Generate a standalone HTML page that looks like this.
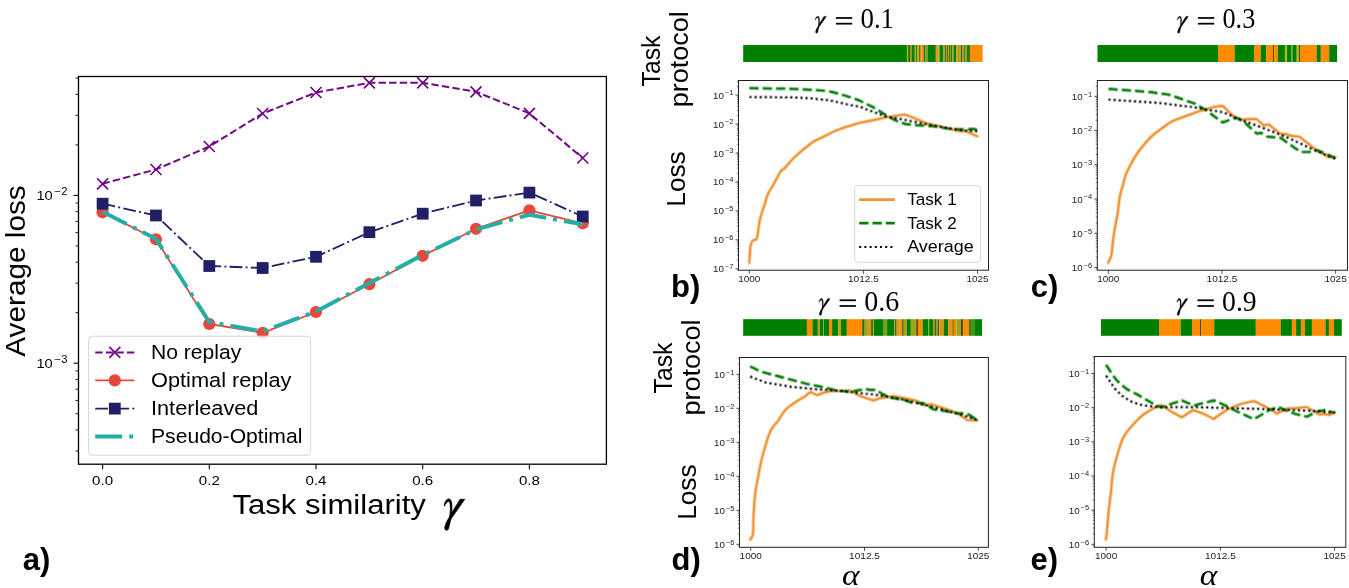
<!DOCTYPE html><html><head><meta charset="utf-8"><style>html,body{margin:0;padding:0;background:#fff;overflow:hidden}svg{display:block;will-change:transform}</style></head><body>
<svg width="1349" height="588" viewBox="0 0 1349 588">
<rect x="0" y="0" width="1349" height="588" fill="#fff"/>
<polyline points="102.6,183.8 155.95,169.5 209.3,146.5 262.65,113.5 316,92.5 369.35,82.8 422.7,82.8 476.05,91.8 529.4,113.4 582.75,158" fill="none" stroke="#700a84" stroke-width="2" stroke-linecap="butt" stroke-linejoin="round" stroke-dasharray="7.4 3.2"/>
<polyline points="102.6,212.3 155.95,239.3 209.3,324 262.65,332.8 316,312 369.35,284.2 422.7,255.8 476.05,228.8 529.4,210.3 582.75,223.3" fill="none" stroke="#e8473c" stroke-width="1.8" stroke-linecap="butt" stroke-linejoin="round"/>
<circle cx="102.6" cy="212.3" r="6.1" fill="#e8473c"/>
<circle cx="155.95" cy="239.3" r="6.1" fill="#e8473c"/>
<circle cx="209.3" cy="324" r="6.1" fill="#e8473c"/>
<circle cx="262.65" cy="332.8" r="6.1" fill="#e8473c"/>
<circle cx="316" cy="312" r="6.1" fill="#e8473c"/>
<circle cx="369.35" cy="284.2" r="6.1" fill="#e8473c"/>
<circle cx="422.7" cy="255.8" r="6.1" fill="#e8473c"/>
<circle cx="476.05" cy="228.8" r="6.1" fill="#e8473c"/>
<circle cx="529.4" cy="210.3" r="6.1" fill="#e8473c"/>
<circle cx="582.75" cy="223.3" r="6.1" fill="#e8473c"/>
<polyline points="102.6,203.7 155.95,215.5 209.3,266 262.65,268 316,256.8 369.35,232.2 422.7,213.7 476.05,200.5 529.4,192.6 582.75,216.5" fill="none" stroke="#221f69" stroke-width="1.8" stroke-linecap="butt" stroke-linejoin="round" stroke-dasharray="12.8 3.2 2 3.2"/>
<rect x="96.7" y="197.8" width="11.8" height="11.8" fill="#221f69"/>
<rect x="150.05" y="209.6" width="11.8" height="11.8" fill="#221f69"/>
<rect x="203.4" y="260.1" width="11.8" height="11.8" fill="#221f69"/>
<rect x="256.75" y="262.1" width="11.8" height="11.8" fill="#221f69"/>
<rect x="310.1" y="250.9" width="11.8" height="11.8" fill="#221f69"/>
<rect x="363.45" y="226.3" width="11.8" height="11.8" fill="#221f69"/>
<rect x="416.8" y="207.8" width="11.8" height="11.8" fill="#221f69"/>
<rect x="470.15" y="194.6" width="11.8" height="11.8" fill="#221f69"/>
<rect x="523.5" y="186.7" width="11.8" height="11.8" fill="#221f69"/>
<rect x="576.85" y="210.6" width="11.8" height="11.8" fill="#221f69"/>
<path d="M97.1,178.3L108.1,189.3M97.1,189.3L108.1,178.3" stroke="#700a84" stroke-width="1.7" fill="none"/>
<path d="M150.45,164L161.45,175M150.45,175L161.45,164" stroke="#700a84" stroke-width="1.7" fill="none"/>
<path d="M203.8,141L214.8,152M203.8,152L214.8,141" stroke="#700a84" stroke-width="1.7" fill="none"/>
<path d="M257.15,108L268.15,119M257.15,119L268.15,108" stroke="#700a84" stroke-width="1.7" fill="none"/>
<path d="M310.5,87L321.5,98M310.5,98L321.5,87" stroke="#700a84" stroke-width="1.7" fill="none"/>
<path d="M363.85,77.3L374.85,88.3M363.85,88.3L374.85,77.3" stroke="#700a84" stroke-width="1.7" fill="none"/>
<path d="M417.2,77.3L428.2,88.3M417.2,88.3L428.2,77.3" stroke="#700a84" stroke-width="1.7" fill="none"/>
<path d="M470.55,86.3L481.55,97.3M470.55,97.3L481.55,86.3" stroke="#700a84" stroke-width="1.7" fill="none"/>
<path d="M523.9,107.9L534.9,118.9M523.9,118.9L534.9,107.9" stroke="#700a84" stroke-width="1.7" fill="none"/>
<path d="M577.25,152.5L588.25,163.5M577.25,163.5L588.25,152.5" stroke="#700a84" stroke-width="1.7" fill="none"/>
<polyline points="102.6,211.8 155.95,238.8 209.3,322 262.65,331.5 316,311.5 369.35,283 422.7,255 476.05,229.4 529.4,214.8 582.75,224.3" fill="none" stroke="#26ada5" stroke-width="4" stroke-linecap="butt" stroke-linejoin="round" stroke-dasharray="27 7 4 7"/>
<rect x="78.5" y="76.5" width="527.9" height="387.7" fill="none" stroke="#000" stroke-width="1.3"/>
<line x1="102.6" y1="464.2" x2="102.6" y2="469.2" stroke="#000" stroke-width="1.1"/>
<text x="102.6" y="484.6" font-size="13.4" text-anchor="middle" font-family='"Liberation Sans", sans-serif' textLength="21" lengthAdjust="spacingAndGlyphs">0.0</text>
<line x1="209.3" y1="464.2" x2="209.3" y2="469.2" stroke="#000" stroke-width="1.1"/>
<text x="209.3" y="484.6" font-size="13.4" text-anchor="middle" font-family='"Liberation Sans", sans-serif' textLength="21" lengthAdjust="spacingAndGlyphs">0.2</text>
<line x1="316" y1="464.2" x2="316" y2="469.2" stroke="#000" stroke-width="1.1"/>
<text x="316" y="484.6" font-size="13.4" text-anchor="middle" font-family='"Liberation Sans", sans-serif' textLength="21" lengthAdjust="spacingAndGlyphs">0.4</text>
<line x1="422.7" y1="464.2" x2="422.7" y2="469.2" stroke="#000" stroke-width="1.1"/>
<text x="422.7" y="484.6" font-size="13.4" text-anchor="middle" font-family='"Liberation Sans", sans-serif' textLength="21" lengthAdjust="spacingAndGlyphs">0.6</text>
<line x1="529.4" y1="464.2" x2="529.4" y2="469.2" stroke="#000" stroke-width="1.1"/>
<text x="529.4" y="484.6" font-size="13.4" text-anchor="middle" font-family='"Liberation Sans", sans-serif' textLength="21" lengthAdjust="spacingAndGlyphs">0.8</text>
<line x1="73.5" y1="195.4" x2="78.5" y2="195.4" stroke="#000" stroke-width="1.1"/>
<text x="52.8" y="199.8" font-size="13.4" text-anchor="end" font-family='"Liberation Sans", sans-serif' textLength="16.4" lengthAdjust="spacingAndGlyphs">10</text>
<text x="54.6" y="194.7" font-size="10" text-anchor="start" font-family='"Liberation Sans", sans-serif' textLength="12.8" lengthAdjust="spacingAndGlyphs">−2</text>
<line x1="73.5" y1="363.2" x2="78.5" y2="363.2" stroke="#000" stroke-width="1.1"/>
<text x="52.8" y="367.6" font-size="13.4" text-anchor="end" font-family='"Liberation Sans", sans-serif' textLength="16.4" lengthAdjust="spacingAndGlyphs">10</text>
<text x="54.6" y="362.5" font-size="10" text-anchor="start" font-family='"Liberation Sans", sans-serif' textLength="12.8" lengthAdjust="spacingAndGlyphs">−3</text>
<line x1="75.5" y1="450.94" x2="78.5" y2="450.94" stroke="#000" stroke-width="0.9"/>
<line x1="75.5" y1="429.97" x2="78.5" y2="429.97" stroke="#000" stroke-width="0.9"/>
<line x1="75.5" y1="413.71" x2="78.5" y2="413.71" stroke="#000" stroke-width="0.9"/>
<line x1="75.5" y1="400.43" x2="78.5" y2="400.43" stroke="#000" stroke-width="0.9"/>
<line x1="75.5" y1="389.19" x2="78.5" y2="389.19" stroke="#000" stroke-width="0.9"/>
<line x1="75.5" y1="379.46" x2="78.5" y2="379.46" stroke="#000" stroke-width="0.9"/>
<line x1="75.5" y1="370.88" x2="78.5" y2="370.88" stroke="#000" stroke-width="0.9"/>
<line x1="75.5" y1="312.69" x2="78.5" y2="312.69" stroke="#000" stroke-width="0.9"/>
<line x1="75.5" y1="283.14" x2="78.5" y2="283.14" stroke="#000" stroke-width="0.9"/>
<line x1="75.5" y1="262.17" x2="78.5" y2="262.17" stroke="#000" stroke-width="0.9"/>
<line x1="75.5" y1="245.91" x2="78.5" y2="245.91" stroke="#000" stroke-width="0.9"/>
<line x1="75.5" y1="232.63" x2="78.5" y2="232.63" stroke="#000" stroke-width="0.9"/>
<line x1="75.5" y1="221.39" x2="78.5" y2="221.39" stroke="#000" stroke-width="0.9"/>
<line x1="75.5" y1="211.66" x2="78.5" y2="211.66" stroke="#000" stroke-width="0.9"/>
<line x1="75.5" y1="203.08" x2="78.5" y2="203.08" stroke="#000" stroke-width="0.9"/>
<line x1="75.5" y1="144.89" x2="78.5" y2="144.89" stroke="#000" stroke-width="0.9"/>
<line x1="75.5" y1="115.34" x2="78.5" y2="115.34" stroke="#000" stroke-width="0.9"/>
<line x1="75.5" y1="94.37" x2="78.5" y2="94.37" stroke="#000" stroke-width="0.9"/>
<line x1="75.5" y1="78.11" x2="78.5" y2="78.11" stroke="#000" stroke-width="0.9"/>
<text x="24.5" y="271" font-size="27" text-anchor="middle" font-family='"Liberation Sans", sans-serif' textLength="171.5" lengthAdjust="spacingAndGlyphs" transform="rotate(-90 24.5 271)">Average loss</text>
<text x="232.5" y="513.7" font-size="27" text-anchor="start" font-family='"Liberation Sans", sans-serif' textLength="193.4" lengthAdjust="spacingAndGlyphs">Task similarity</text>
<path d="M118,205 C125,150 155,112 185,115 C215,120 225,170 222,240 L218,300 L330,120 L392,120 L210,380 C195,420 188,470 178,508 C168,535 138,540 128,515 C120,490 140,430 188,355 C196,330 200,290 200,240 C200,185 192,150 176,150 C158,152 138,175 125,210 Z" fill="#000" stroke="#000" stroke-width="9" stroke-linejoin="round" transform="translate(435.2,490.2) scale(0.0755)"/>
<text x="22.8" y="569.9" font-size="31" text-anchor="start" font-family='"Liberation Sans", sans-serif' font-weight="bold">a)</text>
<rect x="88.6" y="336.2" width="222" height="119" rx="3.5" fill="#fff" fill-opacity="0.8" stroke="#d6d6d6" stroke-width="1"/>
<polyline points="95.2,352.4 134.3,352.4" fill="none" stroke="#700a84" stroke-width="2" stroke-linecap="butt" stroke-linejoin="round" stroke-dasharray="7.4 3.2"/>
<path d="M109.3,346.9L120.3,357.9M109.3,357.9L120.3,346.9" stroke="#700a84" stroke-width="1.7" fill="none"/>
<polyline points="95.2,380.4 134.3,380.4" fill="none" stroke="#e8473c" stroke-width="1.8" stroke-linecap="butt" stroke-linejoin="round"/>
<circle cx="114.8" cy="380.4" r="6.1" fill="#e8473c"/>
<polyline points="95.2,408.6 134.3,408.6" fill="none" stroke="#221f69" stroke-width="1.8" stroke-linecap="butt" stroke-linejoin="round" stroke-dasharray="12.8 3.2 2 3.2"/>
<rect x="108.9" y="402.7" width="11.8" height="11.8" fill="#221f69"/>
<polyline points="95.2,436.6 134.3,436.6" fill="none" stroke="#26ada5" stroke-width="4" stroke-linecap="butt" stroke-linejoin="round" stroke-dasharray="27 7 4 7"/>
<text x="151" y="359" font-size="19.3" text-anchor="start" font-family='"Liberation Sans", sans-serif' textLength="90.3" lengthAdjust="spacingAndGlyphs">No replay</text>
<text x="151" y="387" font-size="19.3" text-anchor="start" font-family='"Liberation Sans", sans-serif' textLength="140.4" lengthAdjust="spacingAndGlyphs">Optimal replay</text>
<text x="151" y="415.2" font-size="19.3" text-anchor="start" font-family='"Liberation Sans", sans-serif' textLength="107.4" lengthAdjust="spacingAndGlyphs">Interleaved</text>
<text x="151" y="443.2" font-size="19.3" text-anchor="start" font-family='"Liberation Sans", sans-serif' textLength="151.4" lengthAdjust="spacingAndGlyphs">Pseudo-Optimal</text>
<rect x="743.2" y="45" width="163.75" height="17" fill="#008000"/>
<rect x="906.9" y="45" width="1.35" height="17" fill="#9fb52a"/>
<rect x="908.2" y="45" width="1.85" height="17" fill="#1a6e05"/>
<rect x="910" y="45" width="1.95" height="17" fill="#a59a10"/>
<rect x="911.9" y="45" width="2.95" height="17" fill="#0e800a"/>
<rect x="914.8" y="45" width="1.35" height="17" fill="#a8bb30"/>
<rect x="916.1" y="45" width="0.95" height="17" fill="#2a6a05"/>
<rect x="917" y="45" width="2.05" height="17" fill="#b9b025"/>
<rect x="919" y="45" width="0.95" height="17" fill="#6a5a05"/>
<rect x="919.9" y="45" width="1.85" height="17" fill="#c8a015"/>
<rect x="921.7" y="45" width="2.25" height="17" fill="#f09010"/>
<rect x="923.9" y="45" width="1.35" height="17" fill="#1e6a05"/>
<rect x="925.2" y="45" width="2.75" height="17" fill="#78a520"/>
<rect x="927.9" y="45" width="7.95" height="17" fill="#008000"/>
<rect x="935.8" y="45" width="2.75" height="17" fill="#f59512"/>
<rect x="938.5" y="45" width="1.35" height="17" fill="#90a020"/>
<rect x="939.8" y="45" width="3.15" height="17" fill="#008000"/>
<rect x="942.9" y="45" width="2.25" height="17" fill="#98b02a"/>
<rect x="945.1" y="45" width="0.95" height="17" fill="#3a6005"/>
<rect x="946" y="45" width="1.15" height="17" fill="#b5aa20"/>
<rect x="947.1" y="45" width="0.95" height="17" fill="#4a5a05"/>
<rect x="948" y="45" width="1.15" height="17" fill="#b0a820"/>
<rect x="949.1" y="45" width="0.95" height="17" fill="#4a6005"/>
<rect x="950" y="45" width="1.15" height="17" fill="#80a020"/>
<rect x="951.1" y="45" width="1.15" height="17" fill="#1a6a05"/>
<rect x="952.2" y="45" width="1.75" height="17" fill="#90a520"/>
<rect x="953.9" y="45" width="2.25" height="17" fill="#008000"/>
<rect x="956.1" y="45" width="1.15" height="17" fill="#b5b020"/>
<rect x="957.2" y="45" width="1.85" height="17" fill="#d08a10"/>
<rect x="959" y="45" width="1.85" height="17" fill="#b5a820"/>
<rect x="960.8" y="45" width="1.35" height="17" fill="#4a5a05"/>
<rect x="962.1" y="45" width="1.85" height="17" fill="#a0a520"/>
<rect x="963.9" y="45" width="0.95" height="17" fill="#3a5a05"/>
<rect x="964.8" y="45" width="2.25" height="17" fill="#80b02a"/>
<rect x="967" y="45" width="3.05" height="17" fill="#2a7a08"/>
<rect x="970" y="45" width="12.65" height="17" fill="#ff8c00"/>
<svg x="738.5" y="80.5" width="250" height="189.7" overflow="hidden"><g transform="translate(-738.5,-80.5)">
<path d="M749.3,262.6 C749.5,259.92 749.93,250.18 750.5,246.5 C751.07,242.82 751.77,241.63 752.7,240.5 C753.63,239.37 755.3,240.55 756.1,239.7 C756.9,238.85 756.82,238.95 757.5,235.4 C758.18,231.85 758.95,223.72 760.2,218.4 C761.45,213.08 763.75,207.47 765,203.5 C766.25,199.53 766.23,197.88 767.7,194.6 C769.17,191.32 771.65,187.65 773.8,183.8 C775.95,179.95 778.68,174.22 780.6,171.5 C782.52,168.78 783.38,169.48 785.3,167.5 C787.22,165.52 789.5,162.27 792.1,159.6 C794.7,156.93 797.45,154.42 800.9,151.5 C804.35,148.58 809.12,144.52 812.8,142.1 C816.48,139.68 819.32,138.83 823,137 C826.68,135.17 830.93,132.8 834.9,131.1 C838.87,129.4 843.45,127.93 846.8,126.8 C850.15,125.67 852.8,124.98 855,124.3 C857.2,123.62 856.95,123.4 860,122.7 C860,122.7 873.3,120.1 873.3,120.1 C873.3,120.1 887.6,117 887.6,117 C887.6,117 904.9,114.5 904.9,114.5 C904.9,114.5 913.1,117.6 913.1,117.6 C913.1,117.6 926.3,123.2 926.3,123.2 C926.3,123.2 939.6,126.2 939.6,126.2 C939.6,126.2 956.9,130.8 956.9,130.8 C956.9,130.8 967.1,131.8 967.1,131.8 C967.1,131.8 977.5,136.4 977.5,136.4" fill="none" stroke="#ef9230" stroke-width="2.6" stroke-linecap="round" stroke-linejoin="round"/>
<polyline points="749.4,88.2 791,88.8 821.7,90.5 831.9,91.9 845.5,95.7 859.1,100.4 873.3,107.3 886.5,115.5 895.7,120.6 905.9,124.2 916.1,125.2 926.3,125.7 936.5,126.7 946.7,128.3 956.9,129.3 967.1,129.3 973.3,128.8 977.5,130" fill="none" stroke="#0a800a" stroke-width="2.7" stroke-linecap="butt" stroke-linejoin="round" stroke-dasharray="9.3 4.0"/>
<polyline points="749.4,97 791,97.4 811.5,98.4 828.5,100.1 848.9,104.7 860,106.8 873.3,111.9 886.5,116.7 900.8,119.1 916.1,122.1 931.4,125.2 946.7,127.8 962,130.3 977.5,131.3" fill="none" stroke="#000" stroke-width="2.2" stroke-linecap="butt" stroke-linejoin="round" stroke-dasharray="2.2 2.9"/>
</g></svg>
<rect x="738.5" y="80.5" width="250" height="189.7" fill="none" stroke="#222" stroke-width="1"/>
<line x1="749.3" y1="270.2" x2="749.3" y2="273.7" stroke="#222" stroke-width="0.8"/>
<text x="749.3" y="282.3" font-size="9.2" text-anchor="middle" font-family='"Liberation Sans", sans-serif' textLength="22.2" lengthAdjust="spacingAndGlyphs" fill="#222">1000</text>
<line x1="863.4" y1="270.2" x2="863.4" y2="273.7" stroke="#222" stroke-width="0.8"/>
<text x="863.4" y="282.3" font-size="9.2" text-anchor="middle" font-family='"Liberation Sans", sans-serif' textLength="30.8" lengthAdjust="spacingAndGlyphs" fill="#222">1012.5</text>
<line x1="977.5" y1="270.2" x2="977.5" y2="273.7" stroke="#222" stroke-width="0.8"/>
<text x="977.5" y="282.3" font-size="9.2" text-anchor="middle" font-family='"Liberation Sans", sans-serif' textLength="22.2" lengthAdjust="spacingAndGlyphs" fill="#222">1025</text>
<line x1="736.9" y1="270.12" x2="738.5" y2="270.12" stroke="#222" stroke-width="0.6"/>
<line x1="735.5" y1="268.8" x2="738.5" y2="268.8" stroke="#222" stroke-width="0.8"/>
<text x="723.9" y="272.3" font-size="9.3" text-anchor="end" font-family='"Liberation Sans", sans-serif' textLength="10.9" lengthAdjust="spacingAndGlyphs" fill="#222">10</text>
<text x="724.9" y="269.1" font-size="6.6" text-anchor="start" font-family='"Liberation Sans", sans-serif' textLength="8.6" lengthAdjust="spacingAndGlyphs" fill="#222">−7</text>
<line x1="736.9" y1="260.09" x2="738.5" y2="260.09" stroke="#222" stroke-width="0.6"/>
<line x1="736.9" y1="254.99" x2="738.5" y2="254.99" stroke="#222" stroke-width="0.6"/>
<line x1="736.9" y1="251.37" x2="738.5" y2="251.37" stroke="#222" stroke-width="0.6"/>
<line x1="736.9" y1="248.56" x2="738.5" y2="248.56" stroke="#222" stroke-width="0.6"/>
<line x1="736.9" y1="246.27" x2="738.5" y2="246.27" stroke="#222" stroke-width="0.6"/>
<line x1="736.9" y1="244.33" x2="738.5" y2="244.33" stroke="#222" stroke-width="0.6"/>
<line x1="736.9" y1="242.66" x2="738.5" y2="242.66" stroke="#222" stroke-width="0.6"/>
<line x1="736.9" y1="241.17" x2="738.5" y2="241.17" stroke="#222" stroke-width="0.6"/>
<line x1="735.5" y1="239.85" x2="738.5" y2="239.85" stroke="#222" stroke-width="0.8"/>
<text x="723.9" y="243.35" font-size="9.3" text-anchor="end" font-family='"Liberation Sans", sans-serif' textLength="10.9" lengthAdjust="spacingAndGlyphs" fill="#222">10</text>
<text x="724.9" y="240.15" font-size="6.6" text-anchor="start" font-family='"Liberation Sans", sans-serif' textLength="8.6" lengthAdjust="spacingAndGlyphs" fill="#222">−6</text>
<line x1="736.9" y1="231.14" x2="738.5" y2="231.14" stroke="#222" stroke-width="0.6"/>
<line x1="736.9" y1="226.04" x2="738.5" y2="226.04" stroke="#222" stroke-width="0.6"/>
<line x1="736.9" y1="222.42" x2="738.5" y2="222.42" stroke="#222" stroke-width="0.6"/>
<line x1="736.9" y1="219.61" x2="738.5" y2="219.61" stroke="#222" stroke-width="0.6"/>
<line x1="736.9" y1="217.32" x2="738.5" y2="217.32" stroke="#222" stroke-width="0.6"/>
<line x1="736.9" y1="215.38" x2="738.5" y2="215.38" stroke="#222" stroke-width="0.6"/>
<line x1="736.9" y1="213.71" x2="738.5" y2="213.71" stroke="#222" stroke-width="0.6"/>
<line x1="736.9" y1="212.22" x2="738.5" y2="212.22" stroke="#222" stroke-width="0.6"/>
<line x1="735.5" y1="210.9" x2="738.5" y2="210.9" stroke="#222" stroke-width="0.8"/>
<text x="723.9" y="214.4" font-size="9.3" text-anchor="end" font-family='"Liberation Sans", sans-serif' textLength="10.9" lengthAdjust="spacingAndGlyphs" fill="#222">10</text>
<text x="724.9" y="211.2" font-size="6.6" text-anchor="start" font-family='"Liberation Sans", sans-serif' textLength="8.6" lengthAdjust="spacingAndGlyphs" fill="#222">−5</text>
<line x1="736.9" y1="202.19" x2="738.5" y2="202.19" stroke="#222" stroke-width="0.6"/>
<line x1="736.9" y1="197.09" x2="738.5" y2="197.09" stroke="#222" stroke-width="0.6"/>
<line x1="736.9" y1="193.47" x2="738.5" y2="193.47" stroke="#222" stroke-width="0.6"/>
<line x1="736.9" y1="190.66" x2="738.5" y2="190.66" stroke="#222" stroke-width="0.6"/>
<line x1="736.9" y1="188.37" x2="738.5" y2="188.37" stroke="#222" stroke-width="0.6"/>
<line x1="736.9" y1="186.43" x2="738.5" y2="186.43" stroke="#222" stroke-width="0.6"/>
<line x1="736.9" y1="184.76" x2="738.5" y2="184.76" stroke="#222" stroke-width="0.6"/>
<line x1="736.9" y1="183.27" x2="738.5" y2="183.27" stroke="#222" stroke-width="0.6"/>
<line x1="735.5" y1="181.95" x2="738.5" y2="181.95" stroke="#222" stroke-width="0.8"/>
<text x="723.9" y="185.45" font-size="9.3" text-anchor="end" font-family='"Liberation Sans", sans-serif' textLength="10.9" lengthAdjust="spacingAndGlyphs" fill="#222">10</text>
<text x="724.9" y="182.25" font-size="6.6" text-anchor="start" font-family='"Liberation Sans", sans-serif' textLength="8.6" lengthAdjust="spacingAndGlyphs" fill="#222">−4</text>
<line x1="736.9" y1="173.24" x2="738.5" y2="173.24" stroke="#222" stroke-width="0.6"/>
<line x1="736.9" y1="168.14" x2="738.5" y2="168.14" stroke="#222" stroke-width="0.6"/>
<line x1="736.9" y1="164.52" x2="738.5" y2="164.52" stroke="#222" stroke-width="0.6"/>
<line x1="736.9" y1="161.71" x2="738.5" y2="161.71" stroke="#222" stroke-width="0.6"/>
<line x1="736.9" y1="159.42" x2="738.5" y2="159.42" stroke="#222" stroke-width="0.6"/>
<line x1="736.9" y1="157.48" x2="738.5" y2="157.48" stroke="#222" stroke-width="0.6"/>
<line x1="736.9" y1="155.81" x2="738.5" y2="155.81" stroke="#222" stroke-width="0.6"/>
<line x1="736.9" y1="154.32" x2="738.5" y2="154.32" stroke="#222" stroke-width="0.6"/>
<line x1="735.5" y1="153" x2="738.5" y2="153" stroke="#222" stroke-width="0.8"/>
<text x="723.9" y="156.5" font-size="9.3" text-anchor="end" font-family='"Liberation Sans", sans-serif' textLength="10.9" lengthAdjust="spacingAndGlyphs" fill="#222">10</text>
<text x="724.9" y="153.3" font-size="6.6" text-anchor="start" font-family='"Liberation Sans", sans-serif' textLength="8.6" lengthAdjust="spacingAndGlyphs" fill="#222">−3</text>
<line x1="736.9" y1="144.29" x2="738.5" y2="144.29" stroke="#222" stroke-width="0.6"/>
<line x1="736.9" y1="139.19" x2="738.5" y2="139.19" stroke="#222" stroke-width="0.6"/>
<line x1="736.9" y1="135.57" x2="738.5" y2="135.57" stroke="#222" stroke-width="0.6"/>
<line x1="736.9" y1="132.76" x2="738.5" y2="132.76" stroke="#222" stroke-width="0.6"/>
<line x1="736.9" y1="130.47" x2="738.5" y2="130.47" stroke="#222" stroke-width="0.6"/>
<line x1="736.9" y1="128.53" x2="738.5" y2="128.53" stroke="#222" stroke-width="0.6"/>
<line x1="736.9" y1="126.86" x2="738.5" y2="126.86" stroke="#222" stroke-width="0.6"/>
<line x1="736.9" y1="125.37" x2="738.5" y2="125.37" stroke="#222" stroke-width="0.6"/>
<line x1="735.5" y1="124.05" x2="738.5" y2="124.05" stroke="#222" stroke-width="0.8"/>
<text x="723.9" y="127.55" font-size="9.3" text-anchor="end" font-family='"Liberation Sans", sans-serif' textLength="10.9" lengthAdjust="spacingAndGlyphs" fill="#222">10</text>
<text x="724.9" y="124.35" font-size="6.6" text-anchor="start" font-family='"Liberation Sans", sans-serif' textLength="8.6" lengthAdjust="spacingAndGlyphs" fill="#222">−2</text>
<line x1="736.9" y1="115.34" x2="738.5" y2="115.34" stroke="#222" stroke-width="0.6"/>
<line x1="736.9" y1="110.24" x2="738.5" y2="110.24" stroke="#222" stroke-width="0.6"/>
<line x1="736.9" y1="106.62" x2="738.5" y2="106.62" stroke="#222" stroke-width="0.6"/>
<line x1="736.9" y1="103.81" x2="738.5" y2="103.81" stroke="#222" stroke-width="0.6"/>
<line x1="736.9" y1="101.52" x2="738.5" y2="101.52" stroke="#222" stroke-width="0.6"/>
<line x1="736.9" y1="99.58" x2="738.5" y2="99.58" stroke="#222" stroke-width="0.6"/>
<line x1="736.9" y1="97.91" x2="738.5" y2="97.91" stroke="#222" stroke-width="0.6"/>
<line x1="736.9" y1="96.42" x2="738.5" y2="96.42" stroke="#222" stroke-width="0.6"/>
<line x1="735.5" y1="95.1" x2="738.5" y2="95.1" stroke="#222" stroke-width="0.8"/>
<text x="723.9" y="98.6" font-size="9.3" text-anchor="end" font-family='"Liberation Sans", sans-serif' textLength="10.9" lengthAdjust="spacingAndGlyphs" fill="#222">10</text>
<text x="724.9" y="95.4" font-size="6.6" text-anchor="start" font-family='"Liberation Sans", sans-serif' textLength="8.6" lengthAdjust="spacingAndGlyphs" fill="#222">−1</text>
<line x1="736.9" y1="86.39" x2="738.5" y2="86.39" stroke="#222" stroke-width="0.6"/>
<line x1="736.9" y1="81.29" x2="738.5" y2="81.29" stroke="#222" stroke-width="0.6"/>
<path d="M118,205 C125,150 155,112 185,115 C215,120 225,170 222,240 L218,300 L330,120 L392,120 L210,380 C195,420 188,470 178,508 C168,535 138,540 128,515 C120,490 140,430 188,355 C196,330 200,290 200,240 C200,185 192,150 176,150 C158,152 138,175 125,210 Z" fill="#000" stroke="#000" stroke-width="8" stroke-linejoin="round" transform="translate(810.43,11.47) scale(0.04089)"/>
<rect x="835.9" y="17.1" width="16.3" height="1.75" fill="#000"/>
<rect x="835.9" y="22.8" width="16.3" height="1.75" fill="#000"/>
<text x="860.46" y="28.3" font-size="28.5" text-anchor="start" font-family='"Liberation Serif", serif' textLength="33.6" lengthAdjust="spacingAndGlyphs">0.1</text>
<text x="671" y="297" font-size="31" text-anchor="start" font-family='"Liberation Sans", sans-serif' font-weight="bold">b)</text>
<rect x="1097.5" y="45" width="120.55" height="17" fill="#008000"/>
<rect x="1218" y="45" width="16.65" height="17" fill="#ff8c00"/>
<rect x="1234.6" y="45" width="19.45" height="17" fill="#008000"/>
<rect x="1254" y="45" width="6.85" height="17" fill="#ff8c00"/>
<rect x="1260.8" y="45" width="5.45" height="17" fill="#008000"/>
<rect x="1266.2" y="45" width="6.75" height="17" fill="#ff8c00"/>
<rect x="1272.9" y="45" width="1.25" height="17" fill="#4a5205"/>
<rect x="1274.1" y="45" width="3.85" height="17" fill="#ff8c00"/>
<rect x="1277.9" y="45" width="7.05" height="17" fill="#008000"/>
<rect x="1284.9" y="45" width="2.2" height="17" fill="#b5b52a"/>
<rect x="1287.05" y="45" width="4.1" height="17" fill="#008000"/>
<rect x="1291.1" y="45" width="1.45" height="17" fill="#6ab030"/>
<rect x="1292.5" y="45" width="4.25" height="17" fill="#008000"/>
<rect x="1296.7" y="45" width="2.25" height="17" fill="#b5b52a"/>
<rect x="1298.9" y="45" width="1.15" height="17" fill="#3a5005"/>
<rect x="1300" y="45" width="16.75" height="17" fill="#ff8c00"/>
<rect x="1316.7" y="45" width="4.15" height="17" fill="#008000"/>
<rect x="1320.8" y="45" width="8.45" height="17" fill="#ff8c00"/>
<rect x="1329.2" y="45" width="7.85" height="17" fill="#008000"/>
<svg x="1097.3" y="80.5" width="250.2" height="189.7" overflow="hidden"><g transform="translate(-1097.3,-80.5)">
<path d="M1108.2,262.6 C1108.67,261.62 1110.38,258.53 1111,256.7 C1111.62,254.87 1111.47,255 1111.9,251.6 C1112.33,248.2 1113.03,240.55 1113.6,236.3 C1114.17,232.05 1114.6,230.07 1115.3,226.1 C1116,222.13 1117.07,217.35 1117.8,212.5 C1118.53,207.65 1118.92,201.3 1119.7,197 C1120.48,192.7 1121.47,190.47 1122.5,186.7 C1123.53,182.93 1124.43,178.27 1125.9,174.4 C1127.37,170.53 1129.48,166.9 1131.3,163.5 C1133.12,160.1 1134.75,157.05 1136.8,154 C1138.85,150.95 1141.12,148.15 1143.6,145.2 C1146.08,142.25 1148.75,139.03 1151.7,136.3 C1154.65,133.57 1157.9,131.28 1161.3,128.8 C1164.7,126.32 1167.63,123.65 1172.1,121.4 C1176.57,119.15 1183.45,117.02 1188.1,115.3 C1192.75,113.58 1195.52,112.52 1200,111.1 C1204.48,109.68 1211.67,107.63 1215,106.8 C1215,106.8 1220,106.1 1220,106.1 C1220,106.1 1223.1,106.1 1223.1,106.1 C1223.1,106.1 1232.2,115.2 1232.2,115.2 C1232.2,115.2 1239.9,119.8 1239.9,119.8 C1239.9,119.8 1247.5,119.1 1247.5,119.1 C1247.5,119.1 1256.7,119.1 1256.7,119.1 C1256.7,119.1 1263.6,125.2 1263.6,125.2 C1263.6,125.2 1269,124.4 1269,124.4 C1269,124.4 1279.7,133.6 1279.7,133.6 C1279.7,133.6 1287.3,134.4 1287.3,134.4 C1287.3,134.4 1291.9,135.9 1291.9,135.9 C1291.9,135.9 1299.6,136.7 1299.6,136.7 C1299.6,136.7 1311.8,146.6 1311.8,146.6 C1311.8,146.6 1319.5,152 1319.5,152 C1319.5,152 1328.6,157.3 1328.6,157.3 C1328.6,157.3 1335.5,157.3 1335.5,157.3" fill="none" stroke="#ef9230" stroke-width="2.6" stroke-linecap="round" stroke-linejoin="round"/>
<polyline points="1108.5,88.8 1125.5,90.2 1151,92.2 1168.1,94.5 1178.3,97.9 1195.3,103.8 1205.5,109.8 1219.1,120 1222.5,122.5 1233.8,118.3 1238.4,118.3 1246,123.7 1256.7,133.6 1261.3,132.8 1267.4,136.7 1275.1,137.4 1281.2,138.2 1295,148.1 1301.1,152 1308.8,152 1318,150.4 1327.1,154.3 1335.5,158.1" fill="none" stroke="#0a800a" stroke-width="2.7" stroke-linecap="butt" stroke-linejoin="round" stroke-dasharray="9.3 4.0"/>
<polyline points="1108.5,99.6 1134,101.3 1159.6,103 1176.6,105.2 1193.6,107.2 1210.6,110.3 1223.1,112.2 1243,120.6 1265.9,129 1288.9,138.2 1311.8,148.9 1335.5,158.9" fill="none" stroke="#000" stroke-width="2.2" stroke-linecap="butt" stroke-linejoin="round" stroke-dasharray="2.2 2.9"/>
</g></svg>
<rect x="1097.3" y="80.5" width="250.2" height="189.7" fill="none" stroke="#222" stroke-width="1"/>
<line x1="1108.3" y1="270.2" x2="1108.3" y2="273.7" stroke="#222" stroke-width="0.8"/>
<text x="1108.3" y="282.3" font-size="9.2" text-anchor="middle" font-family='"Liberation Sans", sans-serif' textLength="22.2" lengthAdjust="spacingAndGlyphs" fill="#222">1000</text>
<line x1="1221.95" y1="270.2" x2="1221.95" y2="273.7" stroke="#222" stroke-width="0.8"/>
<text x="1221.95" y="282.3" font-size="9.2" text-anchor="middle" font-family='"Liberation Sans", sans-serif' textLength="30.8" lengthAdjust="spacingAndGlyphs" fill="#222">1012.5</text>
<line x1="1335.6" y1="270.2" x2="1335.6" y2="273.7" stroke="#222" stroke-width="0.8"/>
<text x="1335.6" y="282.3" font-size="9.2" text-anchor="middle" font-family='"Liberation Sans", sans-serif' textLength="22.2" lengthAdjust="spacingAndGlyphs" fill="#222">1025</text>
<line x1="1095.7" y1="269.07" x2="1097.3" y2="269.07" stroke="#222" stroke-width="0.6"/>
<line x1="1094.3" y1="267.5" x2="1097.3" y2="267.5" stroke="#222" stroke-width="0.8"/>
<text x="1082.7" y="271" font-size="9.3" text-anchor="end" font-family='"Liberation Sans", sans-serif' textLength="10.9" lengthAdjust="spacingAndGlyphs" fill="#222">10</text>
<text x="1083.7" y="267.8" font-size="6.6" text-anchor="start" font-family='"Liberation Sans", sans-serif' textLength="8.6" lengthAdjust="spacingAndGlyphs" fill="#222">−6</text>
<line x1="1095.7" y1="257.19" x2="1097.3" y2="257.19" stroke="#222" stroke-width="0.6"/>
<line x1="1095.7" y1="251.16" x2="1097.3" y2="251.16" stroke="#222" stroke-width="0.6"/>
<line x1="1095.7" y1="246.89" x2="1097.3" y2="246.89" stroke="#222" stroke-width="0.6"/>
<line x1="1095.7" y1="243.57" x2="1097.3" y2="243.57" stroke="#222" stroke-width="0.6"/>
<line x1="1095.7" y1="240.86" x2="1097.3" y2="240.86" stroke="#222" stroke-width="0.6"/>
<line x1="1095.7" y1="238.56" x2="1097.3" y2="238.56" stroke="#222" stroke-width="0.6"/>
<line x1="1095.7" y1="236.58" x2="1097.3" y2="236.58" stroke="#222" stroke-width="0.6"/>
<line x1="1095.7" y1="234.83" x2="1097.3" y2="234.83" stroke="#222" stroke-width="0.6"/>
<line x1="1094.3" y1="233.26" x2="1097.3" y2="233.26" stroke="#222" stroke-width="0.8"/>
<text x="1082.7" y="236.76" font-size="9.3" text-anchor="end" font-family='"Liberation Sans", sans-serif' textLength="10.9" lengthAdjust="spacingAndGlyphs" fill="#222">10</text>
<text x="1083.7" y="233.56" font-size="6.6" text-anchor="start" font-family='"Liberation Sans", sans-serif' textLength="8.6" lengthAdjust="spacingAndGlyphs" fill="#222">−5</text>
<line x1="1095.7" y1="222.95" x2="1097.3" y2="222.95" stroke="#222" stroke-width="0.6"/>
<line x1="1095.7" y1="216.92" x2="1097.3" y2="216.92" stroke="#222" stroke-width="0.6"/>
<line x1="1095.7" y1="212.65" x2="1097.3" y2="212.65" stroke="#222" stroke-width="0.6"/>
<line x1="1095.7" y1="209.33" x2="1097.3" y2="209.33" stroke="#222" stroke-width="0.6"/>
<line x1="1095.7" y1="206.62" x2="1097.3" y2="206.62" stroke="#222" stroke-width="0.6"/>
<line x1="1095.7" y1="204.32" x2="1097.3" y2="204.32" stroke="#222" stroke-width="0.6"/>
<line x1="1095.7" y1="202.34" x2="1097.3" y2="202.34" stroke="#222" stroke-width="0.6"/>
<line x1="1095.7" y1="200.59" x2="1097.3" y2="200.59" stroke="#222" stroke-width="0.6"/>
<line x1="1094.3" y1="199.02" x2="1097.3" y2="199.02" stroke="#222" stroke-width="0.8"/>
<text x="1082.7" y="202.52" font-size="9.3" text-anchor="end" font-family='"Liberation Sans", sans-serif' textLength="10.9" lengthAdjust="spacingAndGlyphs" fill="#222">10</text>
<text x="1083.7" y="199.32" font-size="6.6" text-anchor="start" font-family='"Liberation Sans", sans-serif' textLength="8.6" lengthAdjust="spacingAndGlyphs" fill="#222">−4</text>
<line x1="1095.7" y1="188.71" x2="1097.3" y2="188.71" stroke="#222" stroke-width="0.6"/>
<line x1="1095.7" y1="182.68" x2="1097.3" y2="182.68" stroke="#222" stroke-width="0.6"/>
<line x1="1095.7" y1="178.41" x2="1097.3" y2="178.41" stroke="#222" stroke-width="0.6"/>
<line x1="1095.7" y1="175.09" x2="1097.3" y2="175.09" stroke="#222" stroke-width="0.6"/>
<line x1="1095.7" y1="172.38" x2="1097.3" y2="172.38" stroke="#222" stroke-width="0.6"/>
<line x1="1095.7" y1="170.08" x2="1097.3" y2="170.08" stroke="#222" stroke-width="0.6"/>
<line x1="1095.7" y1="168.1" x2="1097.3" y2="168.1" stroke="#222" stroke-width="0.6"/>
<line x1="1095.7" y1="166.35" x2="1097.3" y2="166.35" stroke="#222" stroke-width="0.6"/>
<line x1="1094.3" y1="164.78" x2="1097.3" y2="164.78" stroke="#222" stroke-width="0.8"/>
<text x="1082.7" y="168.28" font-size="9.3" text-anchor="end" font-family='"Liberation Sans", sans-serif' textLength="10.9" lengthAdjust="spacingAndGlyphs" fill="#222">10</text>
<text x="1083.7" y="165.08" font-size="6.6" text-anchor="start" font-family='"Liberation Sans", sans-serif' textLength="8.6" lengthAdjust="spacingAndGlyphs" fill="#222">−3</text>
<line x1="1095.7" y1="154.47" x2="1097.3" y2="154.47" stroke="#222" stroke-width="0.6"/>
<line x1="1095.7" y1="148.44" x2="1097.3" y2="148.44" stroke="#222" stroke-width="0.6"/>
<line x1="1095.7" y1="144.17" x2="1097.3" y2="144.17" stroke="#222" stroke-width="0.6"/>
<line x1="1095.7" y1="140.85" x2="1097.3" y2="140.85" stroke="#222" stroke-width="0.6"/>
<line x1="1095.7" y1="138.14" x2="1097.3" y2="138.14" stroke="#222" stroke-width="0.6"/>
<line x1="1095.7" y1="135.84" x2="1097.3" y2="135.84" stroke="#222" stroke-width="0.6"/>
<line x1="1095.7" y1="133.86" x2="1097.3" y2="133.86" stroke="#222" stroke-width="0.6"/>
<line x1="1095.7" y1="132.11" x2="1097.3" y2="132.11" stroke="#222" stroke-width="0.6"/>
<line x1="1094.3" y1="130.54" x2="1097.3" y2="130.54" stroke="#222" stroke-width="0.8"/>
<text x="1082.7" y="134.04" font-size="9.3" text-anchor="end" font-family='"Liberation Sans", sans-serif' textLength="10.9" lengthAdjust="spacingAndGlyphs" fill="#222">10</text>
<text x="1083.7" y="130.84" font-size="6.6" text-anchor="start" font-family='"Liberation Sans", sans-serif' textLength="8.6" lengthAdjust="spacingAndGlyphs" fill="#222">−2</text>
<line x1="1095.7" y1="120.23" x2="1097.3" y2="120.23" stroke="#222" stroke-width="0.6"/>
<line x1="1095.7" y1="114.2" x2="1097.3" y2="114.2" stroke="#222" stroke-width="0.6"/>
<line x1="1095.7" y1="109.93" x2="1097.3" y2="109.93" stroke="#222" stroke-width="0.6"/>
<line x1="1095.7" y1="106.61" x2="1097.3" y2="106.61" stroke="#222" stroke-width="0.6"/>
<line x1="1095.7" y1="103.9" x2="1097.3" y2="103.9" stroke="#222" stroke-width="0.6"/>
<line x1="1095.7" y1="101.6" x2="1097.3" y2="101.6" stroke="#222" stroke-width="0.6"/>
<line x1="1095.7" y1="99.62" x2="1097.3" y2="99.62" stroke="#222" stroke-width="0.6"/>
<line x1="1095.7" y1="97.87" x2="1097.3" y2="97.87" stroke="#222" stroke-width="0.6"/>
<line x1="1094.3" y1="96.3" x2="1097.3" y2="96.3" stroke="#222" stroke-width="0.8"/>
<text x="1082.7" y="99.8" font-size="9.3" text-anchor="end" font-family='"Liberation Sans", sans-serif' textLength="10.9" lengthAdjust="spacingAndGlyphs" fill="#222">10</text>
<text x="1083.7" y="96.6" font-size="6.6" text-anchor="start" font-family='"Liberation Sans", sans-serif' textLength="8.6" lengthAdjust="spacingAndGlyphs" fill="#222">−1</text>
<line x1="1095.7" y1="85.99" x2="1097.3" y2="85.99" stroke="#222" stroke-width="0.6"/>
<path d="M118,205 C125,150 155,112 185,115 C215,120 225,170 222,240 L218,300 L330,120 L392,120 L210,380 C195,420 188,470 178,508 C168,535 138,540 128,515 C120,490 140,430 188,355 C196,330 200,290 200,240 C200,185 192,150 176,150 C158,152 138,175 125,210 Z" fill="#000" stroke="#000" stroke-width="8" stroke-linejoin="round" transform="translate(1172.43,11.47) scale(0.04089)"/>
<rect x="1197.9" y="17.1" width="16.3" height="1.75" fill="#000"/>
<rect x="1197.9" y="22.8" width="16.3" height="1.75" fill="#000"/>
<text x="1222.46" y="28.3" font-size="28.5" text-anchor="start" font-family='"Liberation Serif", serif' textLength="32.8" lengthAdjust="spacingAndGlyphs">0.3</text>
<text x="1030.7" y="297" font-size="31" text-anchor="start" font-family='"Liberation Sans", sans-serif' font-weight="bold">c)</text>
<rect x="743.2" y="319.2" width="63.75" height="16.6" fill="#008000"/>
<rect x="806.9" y="319.2" width="5.65" height="16.6" fill="#ff8c00"/>
<rect x="812.5" y="319.2" width="5.35" height="16.6" fill="#008000"/>
<rect x="817.8" y="319.2" width="2.25" height="16.6" fill="#c09a15"/>
<rect x="820" y="319.2" width="3.25" height="16.6" fill="#008000"/>
<rect x="823.2" y="319.2" width="0.85" height="16.6" fill="#70b030"/>
<rect x="824" y="319.2" width="5.05" height="16.6" fill="#008000"/>
<rect x="829" y="319.2" width="3.15" height="16.6" fill="#ff8c00"/>
<rect x="832.1" y="319.2" width="6.25" height="16.6" fill="#008000"/>
<rect x="838.3" y="319.2" width="2.75" height="16.6" fill="#c8a015"/>
<rect x="841" y="319.2" width="5.85" height="16.6" fill="#008000"/>
<rect x="846.8" y="319.2" width="15.45" height="16.6" fill="#ff8c00"/>
<rect x="862.2" y="319.2" width="1.85" height="16.6" fill="#2a6a05"/>
<rect x="864" y="319.2" width="2.95" height="16.6" fill="#90a020"/>
<rect x="866.9" y="319.2" width="4.25" height="16.6" fill="#c8a015"/>
<rect x="871.1" y="319.2" width="1.85" height="16.6" fill="#4a5a05"/>
<rect x="872.9" y="319.2" width="1.15" height="16.6" fill="#a0b52a"/>
<rect x="874" y="319.2" width="9.05" height="16.6" fill="#008000"/>
<rect x="883" y="319.2" width="4.15" height="16.6" fill="#78a020"/>
<rect x="887.1" y="319.2" width="7.15" height="16.6" fill="#008000"/>
<rect x="894.2" y="319.2" width="0.95" height="16.6" fill="#80b030"/>
<rect x="895.1" y="319.2" width="1.55" height="16.6" fill="#5a5005"/>
<rect x="896.6" y="319.2" width="3.05" height="16.6" fill="#c8a015"/>
<rect x="899.6" y="319.2" width="2.65" height="16.6" fill="#ff8c00"/>
<rect x="902.2" y="319.2" width="1.55" height="16.6" fill="#4a5a05"/>
<rect x="903.7" y="319.2" width="3.35" height="16.6" fill="#a0a520"/>
<rect x="907" y="319.2" width="3.85" height="16.6" fill="#008000"/>
<rect x="910.8" y="319.2" width="5.45" height="16.6" fill="#a0a520"/>
<rect x="916.2" y="319.2" width="1.85" height="16.6" fill="#5a5005"/>
<rect x="918" y="319.2" width="4.75" height="16.6" fill="#ff8c00"/>
<rect x="922.7" y="319.2" width="5.35" height="16.6" fill="#008000"/>
<rect x="928" y="319.2" width="1.15" height="16.6" fill="#a0b52a"/>
<rect x="929.1" y="319.2" width="3.95" height="16.6" fill="#008000"/>
<rect x="933" y="319.2" width="1.55" height="16.6" fill="#a0a520"/>
<rect x="934.5" y="319.2" width="1.55" height="16.6" fill="#5a5a05"/>
<rect x="936" y="319.2" width="1.55" height="16.6" fill="#a0a020"/>
<rect x="937.5" y="319.2" width="1.75" height="16.6" fill="#5a5a05"/>
<rect x="939.2" y="319.2" width="4.75" height="16.6" fill="#d09a15"/>
<rect x="943.9" y="319.2" width="1.05" height="16.6" fill="#3a5a05"/>
<rect x="944.9" y="319.2" width="3.45" height="16.6" fill="#008000"/>
<rect x="948.3" y="319.2" width="3.95" height="16.6" fill="#f09010"/>
<rect x="952.2" y="319.2" width="1.85" height="16.6" fill="#8a8010"/>
<rect x="954" y="319.2" width="2.35" height="16.6" fill="#ff8c00"/>
<rect x="956.3" y="319.2" width="4.75" height="16.6" fill="#a0a020"/>
<rect x="961" y="319.2" width="2.15" height="16.6" fill="#4a5005"/>
<rect x="963.1" y="319.2" width="5.75" height="16.6" fill="#ff8c00"/>
<rect x="968.8" y="319.2" width="2.15" height="16.6" fill="#5a6a05"/>
<rect x="970.9" y="319.2" width="4.15" height="16.6" fill="#3a9a15"/>
<rect x="975" y="319.2" width="7.05" height="16.6" fill="#008000"/>
<svg x="739.5" y="357.5" width="248.9" height="189.8" overflow="hidden"><g transform="translate(-739.5,-357.5)">
<path d="M750.2,539.6 C750.62,538.9 752.18,537.23 752.7,535.4 C753.22,533.57 753.15,532 753.3,528.6 C753.45,525.2 753.27,520.95 753.6,515 C753.93,509.05 754.58,498.98 755.3,492.9 C756.02,486.82 756.9,483.85 757.9,478.5 C758.9,473.15 760.05,466.23 761.3,460.8 C762.55,455.37 763.8,451 765.4,445.9 C767,440.8 768.72,434.48 770.9,430.2 C773.08,425.92 776.18,423.47 778.5,420.2 C780.82,416.93 782.57,413.2 784.8,410.6 C787.03,408 789.53,406.38 791.9,404.6 C794.27,402.82 796.82,401.28 799,399.9 C801.18,398.52 803,397.6 805,396.3 C807,395 808.93,392.27 811,392.1 C811,392.1 817.4,395.3 817.4,395.3 C817.4,395.3 823.4,392.7 823.4,392.7 C823.4,392.7 831.9,391 831.9,391 C831.9,391 842.1,391 842.1,391 C842.1,391 848.9,390.2 848.9,390.2 C848.9,390.2 855.7,393.6 855.7,393.6 C855.7,393.6 860,396 860,396 C860,396 866.1,398.1 866.1,398.1 C866.1,398.1 873.3,400.6 873.3,400.6 C873.3,400.6 880.4,398.1 880.4,398.1 C880.4,398.1 893.7,396 893.7,396 C893.7,396 909,399.1 909,399.1 C909,399.1 917.1,401.1 917.1,401.1 C917.1,401.1 923.3,405.2 923.3,405.2 C923.3,405.2 931.4,404.2 931.4,404.2 C931.4,404.2 937.6,406.2 937.6,406.2 C937.6,406.2 946.7,409.3 946.7,409.3 C946.7,409.3 956.9,412.9 956.9,412.9 C956.9,412.9 967.1,420 967.1,420 C967.1,420 977.3,420.5 977.3,420.5" fill="none" stroke="#ef9230" stroke-width="2.6" stroke-linecap="round" stroke-linejoin="round"/>
<polyline points="750.2,366.4 760.4,371.5 782.5,377.4 808.1,384.2 821.7,386.8 835.3,390.2 848.9,391.9 859.1,390.2 864.1,388.9 870.2,389.9 876.3,389.9 882.4,394 890.6,397.6 902.9,399.6 913.1,403.2 923.3,403.2 933.5,409.3 943.7,410.8 956.9,413.4 966.1,413.4 971.2,416 977.3,420.5" fill="none" stroke="#0a800a" stroke-width="2.7" stroke-linecap="butt" stroke-linejoin="round" stroke-dasharray="9.3 4.0"/>
<polyline points="750.2,376.6 765.5,382.5 791,386.8 816.6,389.3 842.1,391 863.1,393.5 873.3,394.5 883.5,396 900.8,399.1 916.1,402.7 931.4,406.7 946.7,410.8 962,414.9 977.3,420" fill="none" stroke="#000" stroke-width="2.2" stroke-linecap="butt" stroke-linejoin="round" stroke-dasharray="2.2 2.9"/>
</g></svg>
<rect x="739.5" y="357.5" width="248.9" height="189.8" fill="none" stroke="#222" stroke-width="1"/>
<line x1="750.7" y1="547.3" x2="750.7" y2="550.8" stroke="#222" stroke-width="0.8"/>
<text x="750.7" y="559.4" font-size="9.2" text-anchor="middle" font-family='"Liberation Sans", sans-serif' textLength="22.2" lengthAdjust="spacingAndGlyphs" fill="#222">1000</text>
<line x1="864.5" y1="547.3" x2="864.5" y2="550.8" stroke="#222" stroke-width="0.8"/>
<text x="864.5" y="559.4" font-size="9.2" text-anchor="middle" font-family='"Liberation Sans", sans-serif' textLength="30.8" lengthAdjust="spacingAndGlyphs" fill="#222">1012.5</text>
<line x1="978.3" y1="547.3" x2="978.3" y2="550.8" stroke="#222" stroke-width="0.8"/>
<text x="978.3" y="559.4" font-size="9.2" text-anchor="middle" font-family='"Liberation Sans", sans-serif' textLength="22.2" lengthAdjust="spacingAndGlyphs" fill="#222">1025</text>
<line x1="737.9" y1="545.86" x2="739.5" y2="545.86" stroke="#222" stroke-width="0.6"/>
<line x1="736.5" y1="544.3" x2="739.5" y2="544.3" stroke="#222" stroke-width="0.8"/>
<text x="724.9" y="547.8" font-size="9.3" text-anchor="end" font-family='"Liberation Sans", sans-serif' textLength="10.9" lengthAdjust="spacingAndGlyphs" fill="#222">10</text>
<text x="725.9" y="544.6" font-size="6.6" text-anchor="start" font-family='"Liberation Sans", sans-serif' textLength="8.6" lengthAdjust="spacingAndGlyphs" fill="#222">−6</text>
<line x1="737.9" y1="534.06" x2="739.5" y2="534.06" stroke="#222" stroke-width="0.6"/>
<line x1="737.9" y1="528.08" x2="739.5" y2="528.08" stroke="#222" stroke-width="0.6"/>
<line x1="737.9" y1="523.83" x2="739.5" y2="523.83" stroke="#222" stroke-width="0.6"/>
<line x1="737.9" y1="520.54" x2="739.5" y2="520.54" stroke="#222" stroke-width="0.6"/>
<line x1="737.9" y1="517.84" x2="739.5" y2="517.84" stroke="#222" stroke-width="0.6"/>
<line x1="737.9" y1="515.57" x2="739.5" y2="515.57" stroke="#222" stroke-width="0.6"/>
<line x1="737.9" y1="513.59" x2="739.5" y2="513.59" stroke="#222" stroke-width="0.6"/>
<line x1="737.9" y1="511.86" x2="739.5" y2="511.86" stroke="#222" stroke-width="0.6"/>
<line x1="736.5" y1="510.3" x2="739.5" y2="510.3" stroke="#222" stroke-width="0.8"/>
<text x="724.9" y="513.8" font-size="9.3" text-anchor="end" font-family='"Liberation Sans", sans-serif' textLength="10.9" lengthAdjust="spacingAndGlyphs" fill="#222">10</text>
<text x="725.9" y="510.6" font-size="6.6" text-anchor="start" font-family='"Liberation Sans", sans-serif' textLength="8.6" lengthAdjust="spacingAndGlyphs" fill="#222">−5</text>
<line x1="737.9" y1="500.06" x2="739.5" y2="500.06" stroke="#222" stroke-width="0.6"/>
<line x1="737.9" y1="494.08" x2="739.5" y2="494.08" stroke="#222" stroke-width="0.6"/>
<line x1="737.9" y1="489.83" x2="739.5" y2="489.83" stroke="#222" stroke-width="0.6"/>
<line x1="737.9" y1="486.54" x2="739.5" y2="486.54" stroke="#222" stroke-width="0.6"/>
<line x1="737.9" y1="483.84" x2="739.5" y2="483.84" stroke="#222" stroke-width="0.6"/>
<line x1="737.9" y1="481.57" x2="739.5" y2="481.57" stroke="#222" stroke-width="0.6"/>
<line x1="737.9" y1="479.59" x2="739.5" y2="479.59" stroke="#222" stroke-width="0.6"/>
<line x1="737.9" y1="477.86" x2="739.5" y2="477.86" stroke="#222" stroke-width="0.6"/>
<line x1="736.5" y1="476.3" x2="739.5" y2="476.3" stroke="#222" stroke-width="0.8"/>
<text x="724.9" y="479.8" font-size="9.3" text-anchor="end" font-family='"Liberation Sans", sans-serif' textLength="10.9" lengthAdjust="spacingAndGlyphs" fill="#222">10</text>
<text x="725.9" y="476.6" font-size="6.6" text-anchor="start" font-family='"Liberation Sans", sans-serif' textLength="8.6" lengthAdjust="spacingAndGlyphs" fill="#222">−4</text>
<line x1="737.9" y1="466.06" x2="739.5" y2="466.06" stroke="#222" stroke-width="0.6"/>
<line x1="737.9" y1="460.08" x2="739.5" y2="460.08" stroke="#222" stroke-width="0.6"/>
<line x1="737.9" y1="455.83" x2="739.5" y2="455.83" stroke="#222" stroke-width="0.6"/>
<line x1="737.9" y1="452.54" x2="739.5" y2="452.54" stroke="#222" stroke-width="0.6"/>
<line x1="737.9" y1="449.84" x2="739.5" y2="449.84" stroke="#222" stroke-width="0.6"/>
<line x1="737.9" y1="447.57" x2="739.5" y2="447.57" stroke="#222" stroke-width="0.6"/>
<line x1="737.9" y1="445.59" x2="739.5" y2="445.59" stroke="#222" stroke-width="0.6"/>
<line x1="737.9" y1="443.86" x2="739.5" y2="443.86" stroke="#222" stroke-width="0.6"/>
<line x1="736.5" y1="442.3" x2="739.5" y2="442.3" stroke="#222" stroke-width="0.8"/>
<text x="724.9" y="445.8" font-size="9.3" text-anchor="end" font-family='"Liberation Sans", sans-serif' textLength="10.9" lengthAdjust="spacingAndGlyphs" fill="#222">10</text>
<text x="725.9" y="442.6" font-size="6.6" text-anchor="start" font-family='"Liberation Sans", sans-serif' textLength="8.6" lengthAdjust="spacingAndGlyphs" fill="#222">−3</text>
<line x1="737.9" y1="432.06" x2="739.5" y2="432.06" stroke="#222" stroke-width="0.6"/>
<line x1="737.9" y1="426.08" x2="739.5" y2="426.08" stroke="#222" stroke-width="0.6"/>
<line x1="737.9" y1="421.83" x2="739.5" y2="421.83" stroke="#222" stroke-width="0.6"/>
<line x1="737.9" y1="418.54" x2="739.5" y2="418.54" stroke="#222" stroke-width="0.6"/>
<line x1="737.9" y1="415.84" x2="739.5" y2="415.84" stroke="#222" stroke-width="0.6"/>
<line x1="737.9" y1="413.57" x2="739.5" y2="413.57" stroke="#222" stroke-width="0.6"/>
<line x1="737.9" y1="411.59" x2="739.5" y2="411.59" stroke="#222" stroke-width="0.6"/>
<line x1="737.9" y1="409.86" x2="739.5" y2="409.86" stroke="#222" stroke-width="0.6"/>
<line x1="736.5" y1="408.3" x2="739.5" y2="408.3" stroke="#222" stroke-width="0.8"/>
<text x="724.9" y="411.8" font-size="9.3" text-anchor="end" font-family='"Liberation Sans", sans-serif' textLength="10.9" lengthAdjust="spacingAndGlyphs" fill="#222">10</text>
<text x="725.9" y="408.6" font-size="6.6" text-anchor="start" font-family='"Liberation Sans", sans-serif' textLength="8.6" lengthAdjust="spacingAndGlyphs" fill="#222">−2</text>
<line x1="737.9" y1="398.06" x2="739.5" y2="398.06" stroke="#222" stroke-width="0.6"/>
<line x1="737.9" y1="392.08" x2="739.5" y2="392.08" stroke="#222" stroke-width="0.6"/>
<line x1="737.9" y1="387.83" x2="739.5" y2="387.83" stroke="#222" stroke-width="0.6"/>
<line x1="737.9" y1="384.54" x2="739.5" y2="384.54" stroke="#222" stroke-width="0.6"/>
<line x1="737.9" y1="381.84" x2="739.5" y2="381.84" stroke="#222" stroke-width="0.6"/>
<line x1="737.9" y1="379.57" x2="739.5" y2="379.57" stroke="#222" stroke-width="0.6"/>
<line x1="737.9" y1="377.59" x2="739.5" y2="377.59" stroke="#222" stroke-width="0.6"/>
<line x1="737.9" y1="375.86" x2="739.5" y2="375.86" stroke="#222" stroke-width="0.6"/>
<line x1="736.5" y1="374.3" x2="739.5" y2="374.3" stroke="#222" stroke-width="0.8"/>
<text x="724.9" y="377.8" font-size="9.3" text-anchor="end" font-family='"Liberation Sans", sans-serif' textLength="10.9" lengthAdjust="spacingAndGlyphs" fill="#222">10</text>
<text x="725.9" y="374.6" font-size="6.6" text-anchor="start" font-family='"Liberation Sans", sans-serif' textLength="8.6" lengthAdjust="spacingAndGlyphs" fill="#222">−1</text>
<line x1="737.9" y1="364.06" x2="739.5" y2="364.06" stroke="#222" stroke-width="0.6"/>
<line x1="737.9" y1="358.08" x2="739.5" y2="358.08" stroke="#222" stroke-width="0.6"/>
<path d="M118,205 C125,150 155,112 185,115 C215,120 225,170 222,240 L218,300 L330,120 L392,120 L210,380 C195,420 188,470 178,508 C168,535 138,540 128,515 C120,490 140,430 188,355 C196,330 200,290 200,240 C200,185 192,150 176,150 C158,152 138,175 125,210 Z" fill="#000" stroke="#000" stroke-width="8" stroke-linejoin="round" transform="translate(814.13,293.77) scale(0.04089)"/>
<rect x="839.6" y="299.4" width="16.3" height="1.75" fill="#000"/>
<rect x="839.6" y="305.1" width="16.3" height="1.75" fill="#000"/>
<text x="864.16" y="310.6" font-size="28.5" text-anchor="start" font-family='"Liberation Serif", serif' textLength="35" lengthAdjust="spacingAndGlyphs">0.6</text>
<text x="671.5" y="570" font-size="31" text-anchor="start" font-family='"Liberation Sans", sans-serif' font-weight="bold">d)</text>
<rect x="1101" y="319.2" width="58.05" height="16.6" fill="#008000"/>
<rect x="1159" y="319.2" width="21.65" height="16.6" fill="#ff8c00"/>
<rect x="1180.6" y="319.2" width="11.45" height="16.6" fill="#008000"/>
<rect x="1192" y="319.2" width="8.05" height="16.6" fill="#ff8c00"/>
<rect x="1200" y="319.2" width="1.25" height="16.6" fill="#3a5005"/>
<rect x="1201.2" y="319.2" width="13.05" height="16.6" fill="#ff8c00"/>
<rect x="1214.2" y="319.2" width="41.65" height="16.6" fill="#008000"/>
<rect x="1255.8" y="319.2" width="25.05" height="16.6" fill="#ff8c00"/>
<rect x="1280.8" y="319.2" width="11.15" height="16.6" fill="#008000"/>
<rect x="1291.9" y="319.2" width="4.25" height="16.6" fill="#ff8c00"/>
<rect x="1296.1" y="319.2" width="4.85" height="16.6" fill="#008000"/>
<rect x="1300.9" y="319.2" width="3.95" height="16.6" fill="#ff8c00"/>
<rect x="1304.8" y="319.2" width="7.15" height="16.6" fill="#008000"/>
<rect x="1311.9" y="319.2" width="13.65" height="16.6" fill="#ff8c00"/>
<rect x="1325.5" y="319.2" width="3.45" height="16.6" fill="#008000"/>
<rect x="1328.9" y="319.2" width="5.15" height="16.6" fill="#ff8c00"/>
<rect x="1334" y="319.2" width="7.75" height="16.6" fill="#008000"/>
<svg x="1094.3" y="356.5" width="251.5" height="190.8" overflow="hidden"><g transform="translate(-1094.3,-356.5)">
<path d="M1106,539.6 C1106.2,537.77 1106.77,533.27 1107.2,528.6 C1107.63,523.93 1107.95,517.83 1108.6,511.6 C1109.25,505.37 1110.5,496.72 1111.1,491.2 C1111.7,485.68 1111.67,482.65 1112.2,478.5 C1112.73,474.35 1113.27,470.83 1114.3,466.3 C1115.33,461.77 1116.9,456.08 1118.4,451.3 C1119.9,446.52 1121.38,441.45 1123.3,437.6 C1125.22,433.75 1127.65,431.03 1129.9,428.2 C1132.15,425.37 1134.57,422.87 1136.8,420.6 C1139.03,418.33 1141.02,416.37 1143.3,414.6 C1145.58,412.83 1148.32,411.27 1150.5,410 C1152.68,408.73 1154.62,407.8 1156.4,407 C1158.18,406.2 1159.6,405 1161.2,405.2 C1161.2,405.2 1166,408.2 1166,408.2 C1166,408.2 1171.9,411.8 1171.9,411.8 C1171.9,411.8 1181.8,417.4 1181.8,417.4 C1181.8,417.4 1192.8,410.1 1192.8,410.1 C1192.8,410.1 1202.2,413.2 1202.2,413.2 C1202.2,413.2 1214.1,419.1 1214.1,419.1 C1214.1,419.1 1215,417.8 1215,417.8 C1215,417.8 1227.2,409.6 1227.2,409.6 C1227.2,409.6 1240.5,404 1240.5,404 C1240.5,404 1253.8,400.9 1253.8,400.9 C1253.8,400.9 1266,407 1266,407 C1266,407 1277.2,413.7 1277.2,413.7 C1277.2,413.7 1286.4,408.6 1286.4,408.6 C1286.4,408.6 1296.6,408.1 1296.6,408.1 C1296.6,408.1 1306.8,407 1306.8,407 C1306.8,407 1319.1,414.7 1319.1,414.7 C1319.1,414.7 1324.2,413.7 1324.2,413.7 C1324.2,413.7 1329.3,415.2 1329.3,415.2 C1329.3,415.2 1334.9,412.1 1334.9,412.1" fill="none" stroke="#ef9230" stroke-width="2.6" stroke-linecap="round" stroke-linejoin="round"/>
<polyline points="1106.1,364.7 1112,374 1117.1,380.8 1123.1,386.2 1127.9,389.8 1137.4,394.5 1151.7,402.9 1161.2,407.6 1169.5,404.6 1181.8,400.4 1193.7,405.5 1214.1,400.4 1225.2,405.5 1235.4,410.6 1253.8,419.3 1260.9,415.2 1269.1,410.1 1278.3,407 1288.5,411.6 1296.6,414.2 1306.8,416.7 1317,411.6 1325.2,410.1 1334.6,412.7" fill="none" stroke="#0a800a" stroke-width="2.7" stroke-linecap="butt" stroke-linejoin="round" stroke-dasharray="9.3 4.0"/>
<polyline points="1106.1,375.7 1114.8,388.6 1121.9,395.7 1130.2,401.1 1139.8,404.6 1149.3,406.2 1160,407 1197.1,407.2 1225,408 1266,409.1 1317,411.1 1334.9,412.7" fill="none" stroke="#000" stroke-width="2.2" stroke-linecap="butt" stroke-linejoin="round" stroke-dasharray="2.2 2.9"/>
</g></svg>
<rect x="1094.3" y="356.5" width="251.5" height="190.8" fill="none" stroke="#222" stroke-width="1"/>
<line x1="1106.1" y1="547.3" x2="1106.1" y2="550.8" stroke="#222" stroke-width="0.8"/>
<text x="1106.1" y="559.4" font-size="9.2" text-anchor="middle" font-family='"Liberation Sans", sans-serif' textLength="22.2" lengthAdjust="spacingAndGlyphs" fill="#222">1000</text>
<line x1="1220.35" y1="547.3" x2="1220.35" y2="550.8" stroke="#222" stroke-width="0.8"/>
<text x="1220.35" y="559.4" font-size="9.2" text-anchor="middle" font-family='"Liberation Sans", sans-serif' textLength="30.8" lengthAdjust="spacingAndGlyphs" fill="#222">1012.5</text>
<line x1="1334.6" y1="547.3" x2="1334.6" y2="550.8" stroke="#222" stroke-width="0.8"/>
<text x="1334.6" y="559.4" font-size="9.2" text-anchor="middle" font-family='"Liberation Sans", sans-serif' textLength="22.2" lengthAdjust="spacingAndGlyphs" fill="#222">1025</text>
<line x1="1092.7" y1="545.86" x2="1094.3" y2="545.86" stroke="#222" stroke-width="0.6"/>
<line x1="1091.3" y1="544.3" x2="1094.3" y2="544.3" stroke="#222" stroke-width="0.8"/>
<text x="1079.7" y="547.8" font-size="9.3" text-anchor="end" font-family='"Liberation Sans", sans-serif' textLength="10.9" lengthAdjust="spacingAndGlyphs" fill="#222">10</text>
<text x="1080.7" y="544.6" font-size="6.6" text-anchor="start" font-family='"Liberation Sans", sans-serif' textLength="8.6" lengthAdjust="spacingAndGlyphs" fill="#222">−6</text>
<line x1="1092.7" y1="534.02" x2="1094.3" y2="534.02" stroke="#222" stroke-width="0.6"/>
<line x1="1092.7" y1="528" x2="1094.3" y2="528" stroke="#222" stroke-width="0.6"/>
<line x1="1092.7" y1="523.73" x2="1094.3" y2="523.73" stroke="#222" stroke-width="0.6"/>
<line x1="1092.7" y1="520.42" x2="1094.3" y2="520.42" stroke="#222" stroke-width="0.6"/>
<line x1="1092.7" y1="517.72" x2="1094.3" y2="517.72" stroke="#222" stroke-width="0.6"/>
<line x1="1092.7" y1="515.43" x2="1094.3" y2="515.43" stroke="#222" stroke-width="0.6"/>
<line x1="1092.7" y1="513.45" x2="1094.3" y2="513.45" stroke="#222" stroke-width="0.6"/>
<line x1="1092.7" y1="511.7" x2="1094.3" y2="511.7" stroke="#222" stroke-width="0.6"/>
<line x1="1091.3" y1="510.14" x2="1094.3" y2="510.14" stroke="#222" stroke-width="0.8"/>
<text x="1079.7" y="513.64" font-size="9.3" text-anchor="end" font-family='"Liberation Sans", sans-serif' textLength="10.9" lengthAdjust="spacingAndGlyphs" fill="#222">10</text>
<text x="1080.7" y="510.44" font-size="6.6" text-anchor="start" font-family='"Liberation Sans", sans-serif' textLength="8.6" lengthAdjust="spacingAndGlyphs" fill="#222">−5</text>
<line x1="1092.7" y1="499.86" x2="1094.3" y2="499.86" stroke="#222" stroke-width="0.6"/>
<line x1="1092.7" y1="493.84" x2="1094.3" y2="493.84" stroke="#222" stroke-width="0.6"/>
<line x1="1092.7" y1="489.57" x2="1094.3" y2="489.57" stroke="#222" stroke-width="0.6"/>
<line x1="1092.7" y1="486.26" x2="1094.3" y2="486.26" stroke="#222" stroke-width="0.6"/>
<line x1="1092.7" y1="483.56" x2="1094.3" y2="483.56" stroke="#222" stroke-width="0.6"/>
<line x1="1092.7" y1="481.27" x2="1094.3" y2="481.27" stroke="#222" stroke-width="0.6"/>
<line x1="1092.7" y1="479.29" x2="1094.3" y2="479.29" stroke="#222" stroke-width="0.6"/>
<line x1="1092.7" y1="477.54" x2="1094.3" y2="477.54" stroke="#222" stroke-width="0.6"/>
<line x1="1091.3" y1="475.98" x2="1094.3" y2="475.98" stroke="#222" stroke-width="0.8"/>
<text x="1079.7" y="479.48" font-size="9.3" text-anchor="end" font-family='"Liberation Sans", sans-serif' textLength="10.9" lengthAdjust="spacingAndGlyphs" fill="#222">10</text>
<text x="1080.7" y="476.28" font-size="6.6" text-anchor="start" font-family='"Liberation Sans", sans-serif' textLength="8.6" lengthAdjust="spacingAndGlyphs" fill="#222">−4</text>
<line x1="1092.7" y1="465.7" x2="1094.3" y2="465.7" stroke="#222" stroke-width="0.6"/>
<line x1="1092.7" y1="459.68" x2="1094.3" y2="459.68" stroke="#222" stroke-width="0.6"/>
<line x1="1092.7" y1="455.41" x2="1094.3" y2="455.41" stroke="#222" stroke-width="0.6"/>
<line x1="1092.7" y1="452.1" x2="1094.3" y2="452.1" stroke="#222" stroke-width="0.6"/>
<line x1="1092.7" y1="449.4" x2="1094.3" y2="449.4" stroke="#222" stroke-width="0.6"/>
<line x1="1092.7" y1="447.11" x2="1094.3" y2="447.11" stroke="#222" stroke-width="0.6"/>
<line x1="1092.7" y1="445.13" x2="1094.3" y2="445.13" stroke="#222" stroke-width="0.6"/>
<line x1="1092.7" y1="443.38" x2="1094.3" y2="443.38" stroke="#222" stroke-width="0.6"/>
<line x1="1091.3" y1="441.82" x2="1094.3" y2="441.82" stroke="#222" stroke-width="0.8"/>
<text x="1079.7" y="445.32" font-size="9.3" text-anchor="end" font-family='"Liberation Sans", sans-serif' textLength="10.9" lengthAdjust="spacingAndGlyphs" fill="#222">10</text>
<text x="1080.7" y="442.12" font-size="6.6" text-anchor="start" font-family='"Liberation Sans", sans-serif' textLength="8.6" lengthAdjust="spacingAndGlyphs" fill="#222">−3</text>
<line x1="1092.7" y1="431.54" x2="1094.3" y2="431.54" stroke="#222" stroke-width="0.6"/>
<line x1="1092.7" y1="425.52" x2="1094.3" y2="425.52" stroke="#222" stroke-width="0.6"/>
<line x1="1092.7" y1="421.25" x2="1094.3" y2="421.25" stroke="#222" stroke-width="0.6"/>
<line x1="1092.7" y1="417.94" x2="1094.3" y2="417.94" stroke="#222" stroke-width="0.6"/>
<line x1="1092.7" y1="415.24" x2="1094.3" y2="415.24" stroke="#222" stroke-width="0.6"/>
<line x1="1092.7" y1="412.95" x2="1094.3" y2="412.95" stroke="#222" stroke-width="0.6"/>
<line x1="1092.7" y1="410.97" x2="1094.3" y2="410.97" stroke="#222" stroke-width="0.6"/>
<line x1="1092.7" y1="409.22" x2="1094.3" y2="409.22" stroke="#222" stroke-width="0.6"/>
<line x1="1091.3" y1="407.66" x2="1094.3" y2="407.66" stroke="#222" stroke-width="0.8"/>
<text x="1079.7" y="411.16" font-size="9.3" text-anchor="end" font-family='"Liberation Sans", sans-serif' textLength="10.9" lengthAdjust="spacingAndGlyphs" fill="#222">10</text>
<text x="1080.7" y="407.96" font-size="6.6" text-anchor="start" font-family='"Liberation Sans", sans-serif' textLength="8.6" lengthAdjust="spacingAndGlyphs" fill="#222">−2</text>
<line x1="1092.7" y1="397.38" x2="1094.3" y2="397.38" stroke="#222" stroke-width="0.6"/>
<line x1="1092.7" y1="391.36" x2="1094.3" y2="391.36" stroke="#222" stroke-width="0.6"/>
<line x1="1092.7" y1="387.09" x2="1094.3" y2="387.09" stroke="#222" stroke-width="0.6"/>
<line x1="1092.7" y1="383.78" x2="1094.3" y2="383.78" stroke="#222" stroke-width="0.6"/>
<line x1="1092.7" y1="381.08" x2="1094.3" y2="381.08" stroke="#222" stroke-width="0.6"/>
<line x1="1092.7" y1="378.79" x2="1094.3" y2="378.79" stroke="#222" stroke-width="0.6"/>
<line x1="1092.7" y1="376.81" x2="1094.3" y2="376.81" stroke="#222" stroke-width="0.6"/>
<line x1="1092.7" y1="375.06" x2="1094.3" y2="375.06" stroke="#222" stroke-width="0.6"/>
<line x1="1091.3" y1="373.5" x2="1094.3" y2="373.5" stroke="#222" stroke-width="0.8"/>
<text x="1079.7" y="377" font-size="9.3" text-anchor="end" font-family='"Liberation Sans", sans-serif' textLength="10.9" lengthAdjust="spacingAndGlyphs" fill="#222">10</text>
<text x="1080.7" y="373.8" font-size="6.6" text-anchor="start" font-family='"Liberation Sans", sans-serif' textLength="8.6" lengthAdjust="spacingAndGlyphs" fill="#222">−1</text>
<line x1="1092.7" y1="363.22" x2="1094.3" y2="363.22" stroke="#222" stroke-width="0.6"/>
<line x1="1092.7" y1="357.2" x2="1094.3" y2="357.2" stroke="#222" stroke-width="0.6"/>
<path d="M118,205 C125,150 155,112 185,115 C215,120 225,170 222,240 L218,300 L330,120 L392,120 L210,380 C195,420 188,470 178,508 C168,535 138,540 128,515 C120,490 140,430 188,355 C196,330 200,290 200,240 C200,185 192,150 176,150 C158,152 138,175 125,210 Z" fill="#000" stroke="#000" stroke-width="8" stroke-linejoin="round" transform="translate(1172.03,293.77) scale(0.04089)"/>
<rect x="1197.5" y="299.4" width="16.3" height="1.75" fill="#000"/>
<rect x="1197.5" y="305.1" width="16.3" height="1.75" fill="#000"/>
<text x="1222.06" y="310.6" font-size="28.5" text-anchor="start" font-family='"Liberation Serif", serif' textLength="34.6" lengthAdjust="spacingAndGlyphs">0.9</text>
<text x="1030.4" y="570" font-size="31" text-anchor="start" font-family='"Liberation Sans", sans-serif' font-weight="bold">e)</text>
<text x="660.2" y="61" font-size="26" text-anchor="middle" font-family='"Liberation Sans", sans-serif' textLength="51" lengthAdjust="spacingAndGlyphs" transform="rotate(-90 660.2 61)">Task</text>
<text x="688" y="59.25" font-size="26" text-anchor="middle" font-family='"Liberation Sans", sans-serif' textLength="96" lengthAdjust="spacingAndGlyphs" transform="rotate(-90 688 59.25)">protocol</text>
<text x="684.6" y="179" font-size="25" text-anchor="middle" font-family='"Liberation Sans", sans-serif' textLength="55.4" lengthAdjust="spacingAndGlyphs" transform="rotate(-90 684.6 179)">Loss</text>
<text x="672.1" y="368" font-size="26" text-anchor="middle" font-family='"Liberation Sans", sans-serif' textLength="51" lengthAdjust="spacingAndGlyphs" transform="rotate(-90 672.1 368)">Task</text>
<text x="700.3" y="367.6" font-size="26" text-anchor="middle" font-family='"Liberation Sans", sans-serif' textLength="96" lengthAdjust="spacingAndGlyphs" transform="rotate(-90 700.3 367.6)">protocol</text>
<text x="695.9" y="492.1" font-size="25" text-anchor="middle" font-family='"Liberation Sans", sans-serif' textLength="55.4" lengthAdjust="spacingAndGlyphs" transform="rotate(-90 695.9 492.1)">Loss</text>
<text x="0" y="0" font-size="30" font-family='"Liberation Serif", serif' font-style="italic" transform="translate(842.1,585.4) scale(1.12,0.97)">α</text>
<text x="0" y="0" font-size="30" font-family='"Liberation Serif", serif' font-style="italic" transform="translate(1199.8,585.4) scale(1.12,0.97)">α</text>
<rect x="854.7" y="185.5" width="125.7" height="76.8" rx="3" fill="#fff" fill-opacity="0.8" stroke="#d6d6d6" stroke-width="1"/>
<polyline points="859.2,199.6 894.8,199.6" fill="none" stroke="#ef9230" stroke-width="2.7" stroke-linecap="butt" stroke-linejoin="round"/>
<polyline points="859.2,223.2 894.8,223.2" fill="none" stroke="#0a800a" stroke-width="2.7" stroke-linecap="butt" stroke-linejoin="round" stroke-dasharray="9.3 4.0"/>
<polyline points="859.2,246.9 894.8,246.9" fill="none" stroke="#000" stroke-width="2" stroke-linecap="butt" stroke-linejoin="round" stroke-dasharray="2 3.2"/>
<text x="907.2" y="204.9" font-size="16.9" text-anchor="start" font-family='"Liberation Sans", sans-serif' textLength="49.5" lengthAdjust="spacingAndGlyphs">Task 1</text>
<text x="907.2" y="228.5" font-size="16.9" text-anchor="start" font-family='"Liberation Sans", sans-serif' textLength="49.5" lengthAdjust="spacingAndGlyphs">Task 2</text>
<text x="907.2" y="252.1" font-size="16.9" text-anchor="start" font-family='"Liberation Sans", sans-serif' textLength="66.5" lengthAdjust="spacingAndGlyphs">Average</text>
</svg></body></html>
